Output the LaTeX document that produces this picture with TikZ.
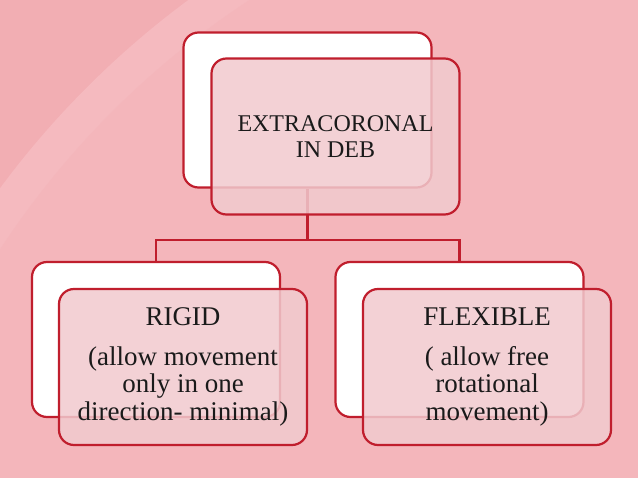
\documentclass[tikz,border=0pt]{standalone}
\usepackage{fontspec}
\setmainfont{Liberation Serif}
\usetikzlibrary{positioning}

\definecolor{bgpink}{HTML}{F4B6BB}
\definecolor{bgdark}{HTML}{F2AEB3}
\definecolor{bglight}{HTML}{F5BABF}
\definecolor{boxred}{HTML}{C01E2D}
\definecolor{frontpink}{HTML}{F1CACE}
\definecolor{inktext}{HTML}{1A1A1A}

\begin{document}
\begin{tikzpicture}[x=1pt,y=-1pt,
backbox/.style={draw=boxred,line width=2.2pt,fill=white,rounded corners=15pt,
  minimum width=248pt,minimum height=155pt,inner sep=0pt},
frontbox/.style={draw=boxred,line width=2.2pt,fill=frontpink,fill opacity=0.85,
  text opacity=1,rounded corners=15pt,minimum width=248pt,minimum height=156pt,
  inner sep=0pt,align=center,text=inktext},
link/.style={draw=boxred,line width=2.2pt}]
%================================================================
%	Background
\useasboundingbox (0,0) rectangle (638,478);
\begin{scope}
\clip (0,0) rectangle (638,478);
\fill[bgdark] (0,0) rectangle (638,478);
\fill[bglight] (720,720) circle (895pt);
\fill[bgpink] (720,720) circle (860pt);
\fill[bgdark] (760,560) circle (260pt);
\fill[bgpink] (700,500) circle (250pt);
\end{scope}

%================================================================
%	Back boxes
\node[backbox] (topback) at (307.5,110) {};
\node[backbox] (leftback) at (156,339.5) {};
\node[backbox] (rightback) at (459.5,339.5) {};

%================================================================
%	Lines
\coordinate (bus) at (307.5,240);
\draw[link] (topback.south) -- (bus);
\draw[link] (bus) -| (leftback.north);
\draw[link] (bus) -| (rightback.north);

%================================================================
%	Front boxes
\node[frontbox,font=\fontsize{24}{26.6}\selectfont] (topfront) at (335.5,136.5)
  {EXTRACORONAL\\IN DEB};
%----------------------------------------------------------------
\node[frontbox,font=\fontsize{27}{27.8}\selectfont] (rigid) at (183,367)
  {RIGID\\[12pt](allow movement\\only in one\\direction- minimal)};
\node[frontbox,font=\fontsize{27}{27.8}\selectfont] (flexible) at (487,367)
  {FLEXIBLE\\[12pt]( allow free\\rotational\\movement)};
%================================================================
\end{tikzpicture}
\end{document}
